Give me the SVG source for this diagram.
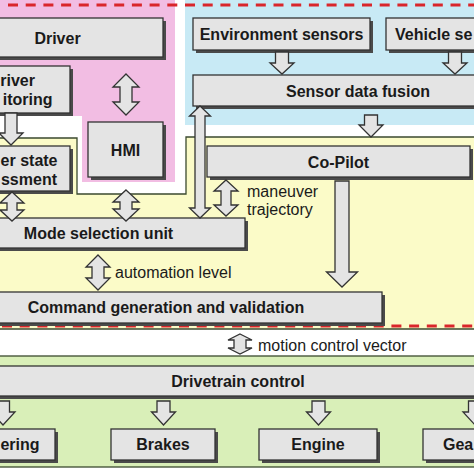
<svg xmlns="http://www.w3.org/2000/svg" width="474" height="474" viewBox="0 0 474 474">
<style>
.bx{fill:#e4e4e4;stroke:#333;stroke-width:1.3}
.sh{fill:#4a4a4a}
.lb{font-family:"Liberation Sans",Arial,sans-serif;font-size:16px;font-weight:bold;fill:#1a1a1a;text-anchor:middle}
.le{font-family:"Liberation Sans",Arial,sans-serif;font-size:16px;font-weight:bold;fill:#1a1a1a;text-anchor:end}
.ls{font-family:"Liberation Sans",Arial,sans-serif;font-size:16px;font-weight:bold;fill:#1a1a1a}
.tx{font-family:"Liberation Sans",Arial,sans-serif;font-size:16px;fill:#1a1a1a}
.ar{fill:#e4e4e4;stroke:#333;stroke-width:1.3;stroke-linejoin:miter}
.dash{stroke:#d9262b;stroke-width:3;stroke-dasharray:10 7.7;fill:none}
</style>
<rect width="474" height="474" fill="#fff"/>
<g id="regions">
<path d="M0,0 H175 V182 H82 V116 H0 Z" fill="#f2bde3"/>
<rect x="185" y="0" width="289" height="125" fill="#c8eaf5"/>
<path d="M-2,138 H77 V194 H186 V137 H476 V329 H-2 Z" fill="#fbfbc8" stroke="#3b4a2f" stroke-width="1.3"/>
<rect x="-2" y="356" width="478" height="111" fill="#d9efb8" stroke="#3b4a2f" stroke-width="1.3"/>
<line class="dash" x1="8" y1="5" x2="474" y2="5"/>
<line class="dash" x1="2" y1="326" x2="474" y2="326"/>
</g>
<g id="driver"><rect class="sh" x="-7" y="21" width="173" height="39"/><rect class="bx" x="-10" y="18" width="173" height="39"/><text class="lb" x="57.5" y="44">Driver</text></g>
<g id="driver-monitoring"><rect class="sh" x="-47" y="69" width="120" height="47"/><rect class="bx" x="-50" y="66" width="120" height="47"/><text class="le" x="35" y="86">river</text><text class="le" x="52.5" y="105">itoring</text></g>
<g id="hmi"><rect class="sh" x="91" y="125" width="75" height="55"/><rect class="bx" x="88" y="122" width="75" height="55"/><text class="lb" x="125.5" y="156">HMI</text></g>
<g id="driver-state"><rect class="sh" x="-47" y="149" width="120" height="45"/><rect class="bx" x="-50" y="146" width="120" height="45"/><text class="le" x="57.5" y="166">er state</text><text class="le" x="57" y="185">ssment</text></g>
<g id="mode-selection"><rect class="sh" x="-7" y="221" width="255" height="30"/><rect class="bx" x="-10" y="218" width="255" height="30"/><text class="lb" x="98.5" y="239">Mode selection unit</text></g>
<g id="command-generation"><rect class="sh" x="-7" y="295" width="392" height="31"/><rect class="bx" x="-10" y="292" width="392" height="31"/><text class="lb" x="166" y="313">Command generation and validation</text></g>
<g id="environment-sensors"><rect class="sh" x="196" y="21" width="177" height="32"/><rect class="bx" x="193" y="18" width="177" height="32"/><text class="lb" x="281.5" y="40">Environment sensors</text></g>
<g id="vehicle-sensors"><rect class="sh" x="389" y="21" width="120" height="32"/><rect class="bx" x="386" y="18" width="120" height="32"/><text class="ls" x="395" y="40">Vehicle se</text></g>
<g id="sensor-fusion"><rect class="sh" x="196" y="78" width="300" height="31"/><rect class="bx" x="193" y="75" width="300" height="31"/><text class="lb" x="358" y="96.5">Sensor data fusion</text></g>
<g id="co-pilot"><rect class="sh" x="210" y="149" width="263" height="31"/><rect class="bx" x="207" y="146" width="263" height="31"/><text class="lb" x="338.5" y="167.5">Co-Pilot</text></g>
<g id="drivetrain-control"><rect class="sh" x="-7" y="369" width="500" height="30"/><rect class="bx" x="-10" y="366" width="500" height="30"/><text class="lb" x="238" y="387">Drivetrain control</text></g>
<g id="steering"><rect class="sh" x="-57" y="432" width="115" height="31"/><rect class="bx" x="-60" y="429" width="115" height="31"/><text class="le" x="39.5" y="450">ering</text></g>
<g id="brakes"><rect class="sh" x="114" y="432" width="104" height="31"/><rect class="bx" x="111" y="429" width="104" height="31"/><text class="lb" x="163" y="450">Brakes</text></g>
<g id="engine"><rect class="sh" x="262" y="432" width="118" height="31"/><rect class="bx" x="259" y="429" width="118" height="31"/><text class="lb" x="318" y="450">Engine</text></g>
<g id="gears"><rect class="sh" x="426" y="432" width="100" height="31"/><rect class="bx" x="423" y="429" width="100" height="31"/><text class="ls" x="443" y="450">Gea</text></g>
<g id="connectors">
<path class="ar" d="M5,113 L17,113 L17,133 L23,133 L11,145 L-1,133 L5,133 Z"/>
<path class="ar" d="M126,74 L139,87 L132,87 L132,102 L139,102 L126,115 L113,102 L120,102 L120,87 L113,87 Z"/>
<path class="ar" d="M12,192 L24,203 L17,203 L17,210 L24,210 L12,221 L0,210 L7,210 L7,203 L0,203 Z"/>
<path class="ar" d="M126,190 L139,202 L132,202 L132,209 L139,209 L126,221 L113,209 L120,209 L120,202 L113,202 Z"/>
<path class="ar" d="M200,106 L210.5,116 L205,116 L205,208 L210.5,208 L200,218 L189.5,208 L195,208 L195,116 L189.5,116 Z"/>
<path class="ar" d="M226,180 L238,191 L231,191 L231,205 L238,205 L226,216 L214,205 L221,205 L221,191 L214,191 Z"/>
<path class="ar" d="M98,255 L110,267 L104,267 L104,278 L110,278 L98,290 L86,278 L92,278 L92,267 L86,267 Z"/>
<path class="ar" d="M240,334 L252,340 L246,340 L246,348 L252,348 L240,354 L228,348 L234,348 L234,340 L228,340 Z"/>
<path class="ar" d="M275.5,52 L288.5,52 L288.5,63 L294,63 L282,74 L270,63 L275.5,63 Z"/>
<path class="ar" d="M448.5,52 L461.5,52 L461.5,63 L467,63 L455,74 L443,63 L448.5,63 Z"/>
<path class="ar" d="M364.5,115 L377.5,115 L377.5,125 L383,125 L371,137 L359,125 L364.5,125 Z"/>
<path class="ar" d="M335,181 L349,181 L349,272 L357.5,272 L342,287 L326.5,272 L335,272 Z"/>
<path class="ar" d="M-3.5,401 L9.5,401 L9.5,412 L15,412 L3,425 L-9,412 L-3.5,412 Z"/>
<path class="ar" d="M157,401 L170,401 L170,412 L175.5,412 L163.5,425 L151.5,412 L157,412 Z"/>
<path class="ar" d="M312,401 L325,401 L325,412 L330.5,412 L318.5,425 L306.5,412 L312,412 Z"/>
<path class="ar" d="M468.5,401 L481.5,401 L481.5,412 L487,412 L475,425 L463,412 L468.5,412 Z"/>
<text class="tx" x="247" y="197">maneuver</text>
<text class="tx" x="247" y="215">trajectory</text>
<text class="tx" x="115" y="277.5">automation level</text>
<text class="tx" x="258" y="351">motion control vector</text>
</g>
</svg>
